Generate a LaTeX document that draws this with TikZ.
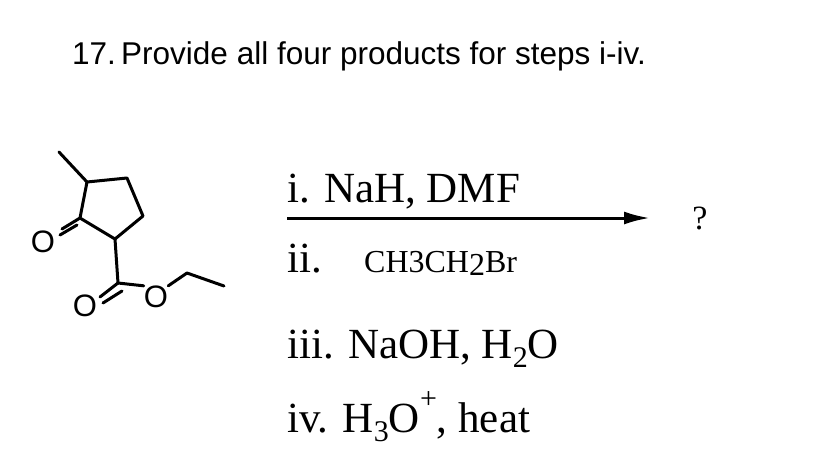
\documentclass[tikz,border=0pt]{standalone}
\usepackage{fontspec}
\usetikzlibrary{arrows.meta}
\setmainfont{Liberation Serif}
\newfontfamily\arialf{Liberation Sans}
\newcommand{\mysub}[1]{\raisebox{-0.22em}{\fontsize{30}{30}\selectfont #1}}
\newcommand{\mysup}[1]{\raisebox{0.55em}{\fontsize{30}{30}\selectfont #1}}
\begin{document}
\begin{tikzpicture}[x=1pt,y=-1pt,bond/.style={line width=3pt,line cap=round,line join=round},
 atom/.style={font=\arialf\fontsize{31}{31}\selectfont,inner sep=0pt},
 rg/.style={anchor=base west,inner sep=0pt,font=\fontsize{43}{43}\selectfont}]
\useasboundingbox (0,0) rectangle (840,464);
\node[anchor=base west,inner sep=0pt,font=\arialf\fontsize{31.5}{31.5}\selectfont] (title) at (72,64) {17.\,Provide all four products for steps i-iv.};
% molecule
\coordinate (me) at (59,152);
\coordinate (c3) at (87,182);
\coordinate (c4) at (127,178);
\coordinate (c5) at (143,216);
\coordinate (c1) at (115,239);
\coordinate (c2) at (80,218);
\node[atom] (ok) at (43,242) {O};
\coordinate (ce) at (118,283);
\node[atom] (oc) at (85,306) {O};
\node[atom] (oe) at (156,297) {O};
\coordinate (ch2) at (187,273);
\coordinate (ch3) at (224,286);
\draw[bond] (me)--(c3);
\draw[bond] (c3)--(c4)--(c5)--(c1)--(c2)--cycle;
\draw[bond] (c1)--(ce);
\draw[bond] (c2)--(62,229) (77,225)--(60,235);
\draw[bond] (ce)--(100,297) (122,291)--(103,303);
\draw[bond] (ce)--(oe.north west);
\draw[bond] (oe.north east)--(ch2)--(ch3);
% reagents
\node[rg] (r1) at (287,202) {i. NaH, DMF};
\draw[line width=3pt,-{Latex[length=26pt,width=13pt]}] (287,218)--(650,218) coordinate (ae);
\node[rg] (r2) at (287,272) {ii.};
\node[anchor=base west,inner sep=0pt,font=\fontsize{32}{32}\selectfont] (r2b) at (364,272) {CH3CH\raisebox{-3pt}{2}Br};
\node[rg] (r3) at (287,358) {iii. NaOH, H\mysub{2}O};
\node[rg] (r4) at (287,432) {iv. H\mysub{3}O\mysup{+}, heat};
\node[inner sep=0pt,font=\fontsize{34}{34}\selectfont] (q) at (700,218) {?};
\end{tikzpicture}
\end{document}
